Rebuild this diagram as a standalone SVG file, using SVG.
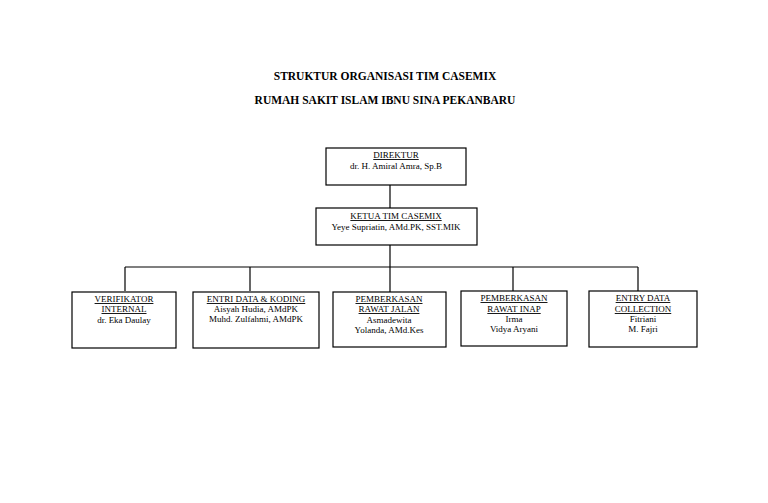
<svg xmlns="http://www.w3.org/2000/svg" width="768" height="503" viewBox="0 0 768 503">
<style>
.bg{fill:#fff}
.box{fill:#fff;stroke:#000;stroke-width:1.2}
.ln{fill:none;stroke:#000;stroke-width:1.2}
.t{font-family:"Liberation Serif",serif;font-size:9px;fill:#000;text-anchor:middle}
.u{text-decoration:underline}
.title{font-family:"Liberation Serif",serif;font-size:11.5px;font-weight:bold;fill:#000;text-anchor:middle}
</style>
<rect class="bg" width="768" height="503"/>
<text class="title" x="385" y="80">STRUKTUR ORGANISASI TIM CASEMIX</text>
<text class="title" x="385" y="104">RUMAH SAKIT ISLAM IBNU SINA PEKANBARU</text>
<g id="connectors">
<path class="ln" d="M390,185 V208"/>
<path class="ln" d="M390,245 V267"/>
<path class="ln" d="M125,267 H638"/>
<path class="ln" d="M125,267 V291"/>
<path class="ln" d="M250,267 V291"/>
<path class="ln" d="M390,267 V292"/>
<path class="ln" d="M513,267 V291"/>
<path class="ln" d="M638,267 V291"/>
</g>
<g id="direktur">
<rect class="box" x="326" y="148" width="140" height="37"/>
<text class="t u" x="396" y="158">DIREKTUR</text>
<text class="t" x="396" y="169">dr. H. Amiral Amra, Sp.B</text>
</g>
<g id="ketua">
<rect class="box" x="316" y="208" width="161" height="37"/>
<text class="t u" x="396" y="219">KETUA TIM CASEMIX</text>
<text class="t" x="396" y="230">Yeye Supriatin, AMd.PK, SST.MIK</text>
</g>
<g id="verifikator">
<rect class="box" x="72" y="292" width="104" height="56"/>
<text class="t u" x="124" y="302">VERIFIKATOR</text>
<text class="t u" x="124" y="312">INTERNAL</text>
<text class="t" x="124" y="323">dr. Eka Daulay</text>
</g>
<g id="entri">
<rect class="box" x="193" y="292" width="126" height="56"/>
<text class="t u" x="256" y="302">ENTRI DATA &amp; KODING</text>
<text class="t" x="256" y="312">Aisyah Hudia, AMdPK</text>
<text class="t" x="256" y="322">Muhd. Zulfahmi, AMdPK</text>
</g>
<g id="rawat-jalan">
<rect class="box" x="333" y="292" width="113" height="55"/>
<text class="t u" x="389" y="302">PEMBERKASAN</text>
<text class="t u" x="389" y="312">RAWAT JALAN</text>
<text class="t" x="389" y="323">Asmadewita</text>
<text class="t" x="389" y="333">Yolanda, AMd.Kes</text>
</g>
<g id="rawat-inap">
<rect class="box" x="461" y="291" width="106" height="55"/>
<text class="t u" x="514" y="301">PEMBERKASAN</text>
<text class="t u" x="514" y="312">RAWAT INAP</text>
<text class="t" x="514" y="322">Irma</text>
<text class="t" x="514" y="332">Vidya Aryani</text>
</g>
<g id="entry-data">
<rect class="box" x="589" y="291" width="108" height="56"/>
<text class="t u" x="643" y="301">ENTRY DATA</text>
<text class="t u" x="643" y="312">COLLECTION</text>
<text class="t" x="643" y="322">Fitriani</text>
<text class="t" x="643" y="332">M. Fajri</text>
</g>
</svg>
